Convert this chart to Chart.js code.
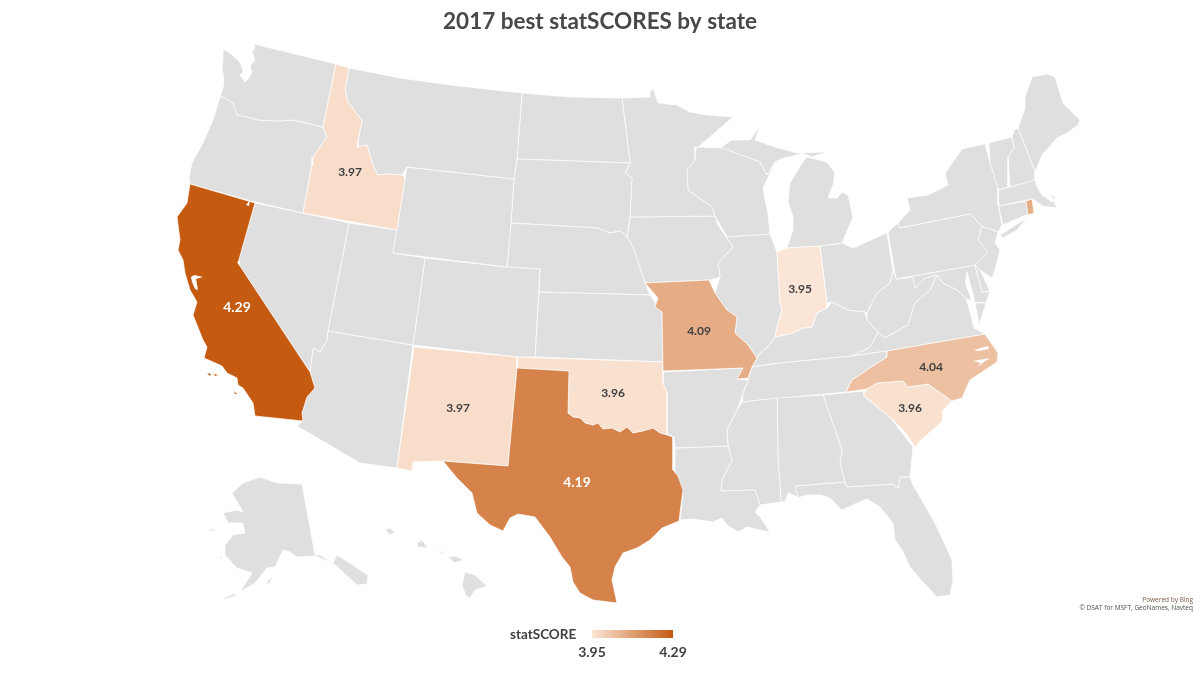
<!DOCTYPE html>
<html>
<head>
<meta charset="utf-8">
<title>2017 best statSCORES by state</title>
<script src="https://cdn.jsdelivr.net/npm/chart.js@4"></script>
<style>
  html, body { margin: 0; padding: 0; background: #fff; }
  canvas { display: block; }
</style>
</head>
<body>
<canvas id="mapa" width="1200" height="675"></canvas>
<script>
// Choropleth of statSCORE by state, drawn as closed scatter lines.

// ── State outlines ──
const WA = [[254,44],[336,64],[323,127],[293,120],[280,121],[258,120],[248,117],[237,115],[233,103],[223,97],[220,97],[223,88],[224,80],[222,68],[223,60],[223,49],[230,53],[238,60],[241,64],[243,72],[240,75],[245,82],[249,78],[252,72],[250,66],[255,60],[252,52],[255,48]];
const OR = [[220,97],[223,97],[233,103],[237,115],[248,117],[258,120],[280,121],[293,120],[323,127],[327,137],[313,157],[312,165],[303,213],[255,202],[190,184],[189,177],[192,163],[203,143],[213,120]];
const CA = [[190,184],[255,203],[238,263],[310,372],[315,388],[307,397],[302,413],[303,421],[255,416],[253,403],[243,388],[238,385],[237,378],[227,373],[222,366],[204,358],[207,347],[203,340],[193,315],[197,302],[190,290],[185,273],[183,260],[178,250],[180,240],[177,217],[187,203]];
const ID = [[336,64],[349,68],[345,90],[348,102],[362,121],[358,140],[358,147],[367,145],[373,165],[376,172],[377,175],[387,174],[402,175],[405,178],[397,230],[303,213],[312,165],[313,157],[327,137],[323,127]];
const NV = [[255,203],[303,213],[349,223],[328,331],[327,340],[320,352],[313,348],[310,372],[238,263]];
const MT = [[349,68],[400,78],[450,85],[522,93],[517,159],[514,179],[407,167],[402,175],[387,174],[377,175],[376,172],[373,165],[367,145],[358,147],[358,140],[362,121],[348,102],[345,90]];
const WY = [[407,167],[514,179],[511,223],[507,267],[393,253]];
const UT = [[349,223],[397,230],[393,253],[425,258],[413,345],[328,331]];
const AZ = [[328,331],[413,345],[397,468],[360,463],[297,426],[303,421],[302,413],[307,397],[315,388],[310,372],[313,348],[320,352],[327,340]];
const CO = [[425,258],[507,267],[540,269],[535,357],[517,357],[413,345]];
const NM = [[414,347],[517,357],[517,368],[508,466],[443,461],[413,462],[412,471],[397,468]];
const TX = [[517,368],[569,371],[568,413],[573,417],[580,418],[585,423],[593,425],[598,423],[603,429],[612,428],[620,432],[627,427],[633,433],[643,431],[653,428],[660,433],[667,435],[673,437],[673,470],[678,476],[683,490],[681,505],[679,521],[662,528],[650,540],[637,548],[623,553],[615,567],[612,580],[617,603],[593,600],[580,593],[573,582],[570,567],[562,557],[550,537],[535,517],[518,514],[510,518],[503,531],[490,525],[477,513],[472,493],[457,478],[443,461],[508,466]];
const OK = [[517,357],[663,362],[663,383],[667,393],[667,435],[660,433],[653,428],[643,431],[633,433],[627,427],[620,432],[612,428],[603,429],[598,423],[593,425],[585,423],[580,418],[573,417],[568,413],[569,371],[517,368]];
const KS = [[539,292],[650,295],[662,313],[663,362],[535,357]];
const NE = [[511,223],[598,228],[610,233],[620,231],[627,237],[633,247],[645,283],[650,295],[539,292],[540,269],[507,267]];
const SD = [[517,159],[630,163],[625,173],[632,178],[630,217],[627,237],[620,231],[610,233],[598,228],[511,223],[514,179]];
const ND = [[522,93],[570,97],[622,98],[625,123],[630,163],[517,159]];
const MN = [[622,98],[650,97],[650,90],[654,90],[658,103],[677,105],[690,112],[707,115],[733,117],[698,147],[695,147],[695,160],[687,170],[688,190],[712,207],[715,216],[630,217],[632,178],[625,173],[630,163],[625,123]];
const IA = [[630,217],[715,216],[718,225],[733,247],[718,263],[720,277],[710,280],[645,283],[633,247],[627,237]];
const MO = [[645,283],[709,280],[715,293],[727,310],[737,317],[735,333],[748,345],[757,358],[752,367],[748,378],[737,379],[743,368],[663,371],[662,312],[655,307],[658,298]];
const AR = [[665,372],[743,368],[737,379],[748,380],[743,393],[737,410],[727,430],[728,446],[675,448],[674,437],[665,433],[665,393],[663,383],[663,371]];
const LA = [[675,448],[728,446],[732,460],[722,480],[721,491],[755,490],[760,505],[755,512],[760,517],[770,532],[760,530],[747,527],[738,532],[727,525],[722,518],[713,522],[693,519],[680,520],[683,493],[675,473]];
const MS = [[742,402],[777,398],[778,457],[781,502],[760,505],[755,490],[721,491],[722,480],[732,460],[728,446],[727,430],[737,410]];
const AL = [[777,398],[823,395],[842,450],[840,463],[845,482],[795,486],[798,497],[788,493],[785,502],[781,502],[778,457]];
const GA = [[823,395],[863,391],[865,397],[890,417],[913,447],[910,477],[900,477],[898,488],[893,484],[847,487],[845,482],[840,463],[842,450]];
const FL = [[795,486],[845,482],[847,487],[893,484],[898,488],[900,477],[910,477],[913,485],[935,523],[952,560],[953,580],[950,595],[937,597],[923,582],[910,567],[902,550],[895,540],[893,523],[880,507],[867,499],[857,503],[842,510],[830,498],[820,495],[807,495],[797,498]];
const TN = [[752,367],[780,363],[852,356],[887,351],[887,357],[870,368],[852,380],[846,392],[742,402],[743,393],[748,380]];
const KY = [[752,367],[757,358],[760,353],[768,347],[775,337],[793,333],[803,328],[812,327],[817,313],[827,308],[832,302],[847,310],[865,312],[867,320],[878,332],[870,347],[852,356],[780,363]];
const IL = [[727,237],[770,234],[777,252],[780,303],[782,310],[777,327],[775,337],[768,347],[760,353],[757,358],[748,345],[735,333],[737,317],[727,310],[715,293],[720,277],[718,263],[733,247],[718,225]];
const IN = [[777,252],[787,248],[820,246],[827,303],[827,308],[817,313],[812,327],[803,328],[793,333],[775,337],[777,327],[782,310],[780,303]];
const WI = [[697,147],[723,148],[760,162],[767,175],[775,163],[763,188],[765,200],[768,213],[770,234],[727,237],[715,216],[712,207],[688,190],[687,170]];
const MI_N = [[720,148],[732,140],[750,140],[760,126],[755,140],[775,147],[797,153],[827,152],[812,157],[803,153],[790,157],[783,158],[775,162],[767,175],[760,162]];
const MI_S = [[787,248],[793,230],[793,217],[788,202],[790,183],[802,163],[807,157],[827,162],[835,173],[833,185],[828,198],[837,198],[842,192],[848,195],[853,217],[842,243],[820,246]];
const OH = [[820,246],[842,243],[853,248],[887,233],[893,270],[890,283],[877,293],[867,313],[865,312],[847,310],[832,302],[827,303]];
const PA = [[888,232],[898,223],[900,228],[970,214],[982,226],[978,240],[988,252],[975,265],[896,279]];
const NY = [[898,223],[910,210],[907,198],[928,195],[948,185],[945,173],[962,149],[985,144],[990,163],[998,188],[998,205],[1002,225],[998,232],[982,226],[970,214],[900,228]];
const LI = [[1000,235],[1027,218],[1017,230],[1003,238]];
const NJ = [[982,226],[998,232],[995,243],[1000,250],[995,270],[992,278],[980,270],[975,265],[988,252],[978,240]];
const DE = [[975,265],[980,270],[990,291],[982,292]];
const MD = [[896,279],[975,265],[982,292],[990,291],[986,303],[973,302],[966,298],[957,290],[943,283],[937,275],[925,278],[915,288],[913,277]];
const VA = [[852,356],[870,347],[878,332],[885,338],[908,325],[915,303],[930,290],[937,275],[943,283],[957,290],[966,298],[970,312],[974,328],[985,334],[887,351]];
const VA_ESTE = [[975,303],[986,303],[979,326]];
const WV = [[893,270],[896,279],[913,277],[915,288],[925,278],[937,275],[930,290],[915,303],[908,325],[885,338],[878,332],[867,320],[867,313],[877,293],[890,283]];
const NC = [[846,392],[852,380],[870,368],[887,357],[887,351],[985,334],[998,353],[997,362],[985,370],[970,380],[962,398],[952,401],[928,384],[908,387],[903,381],[877,383],[867,389]];
const SC = [[867,389],[877,383],[903,381],[908,387],[928,384],[952,401],[943,410],[942,422],[923,438],[915,447],[905,432],[893,420],[873,403],[863,395]];
const VT = [[989,143],[1012,137],[1014,148],[1008,157],[1008,187],[998,190],[993,173],[990,163]];
const NH = [[1014,130],[1018,128],[1035,172],[1035,180],[1010,187],[1008,157],[1014,148],[1012,137]];
const ME = [[1018,128],[1025,108],[1025,97],[1032,77],[1047,74],[1055,77],[1063,103],[1080,120],[1078,125],[1067,133],[1057,138],[1042,155],[1035,172]];
const MA = [[998,190],[1035,180],[1037,187],[1042,195],[1052,202],[1055,198],[1050,193],[1057,208],[1043,206],[1032,199],[999,206]];
const CT = [[999,206],[1026,201],[1028,214],[1003,225],[998,205]];
const RI = [[1026,201],[1032,199],[1034,213],[1028,215]];
const AK = [[302,484],[315,555],[320,555],[333,563],[337,555],[368,575],[367,584],[357,585],[333,563],[315,556],[297,557],[290,552],[283,550],[275,567],[267,568],[255,583],[240,592],[252,573],[237,568],[225,555],[225,545],[233,535],[245,533],[243,523],[228,523],[223,513],[237,510],[243,512],[232,493],[243,483],[260,477],[277,483]];
const AK_KODIAK = [[265,585],[273,575],[270,583]];
const AK_CADENA = [[220,600],[233,594],[238,595],[226,599]];
const AK_NUNIVAK = [[217,556],[223,557],[222,559]];
const AK_LAWRENCE = [[207,527],[215,530],[214,532]];
const HI_BIG = [[462,585],[465,572],[475,575],[487,586],[475,590],[470,598],[466,596]];
const HI_MAUI = [[448,557],[456,556],[463,560],[455,563]];
const HI_OAHU = [[417,543],[422,540],[428,548],[418,547]];
const HI_KAUAI = [[385,530],[390,528],[395,532],[390,535]];
const HI_MOLOKAI = [[437,551],[447,552],[440,553]];

// ── Water cut out of the land ──
const BAHIA_SF = [[191,277],[194,275],[203,277],[196,279],[198,290],[195,289],[192,282]];
const GOOSE = [[246,205],[250,200],[249,206]];
const TAHOE = [[237,262],[240,261],[240,266]];
const CHESAPEAKE = [[967,270],[965,283],[971,300],[974,312],[977,325],[979,322],[976,308],[974,296],[970,282]];
const PAMLICO_N = [[974,350],[988,346],[989,349],[978,351]];
const PAMLICO_S = [[973,361],[990,358],[984,362],[976,368],[981,363]];

// ── Values ──
const estadosDados = ["CA", "TX", "MO", "NC", "RI", "ID", "NM", "OK", "SC", "IN"];
const contornosDados = [CA, TX, MO, NC, RI, ID, NM, OK, SC, IN];
const scores = [4.29, 4.19, 4.09, 4.04, 4.09, 3.97, 3.97, 3.96, 3.96, 3.95];
const rotulosVisiveis = ["4.29", "4.19", "4.09", "4.04", "", "3.97", "3.97", "3.96", "3.96", "3.95"];
const rotuloX = [237, 577, 699, 931, 0, 350, 458, 613, 910, 800];
const rotuloY = [307, 482, 331, 367, 0, 172, 408, 393, 408, 289];

const semDados = [WA, OR, NV, MT, WY, UT, AZ, CO, KS, NE, SD, ND, MN, IA, AR, LA, MS, AL, GA, FL, TN, KY, IL, WI, MI_N, MI_S, OH, PA, NY, LI, NJ, DE, MD, VA, VA_ESTE, WV, VT, NH, ME, MA, CT, AK, AK_KODIAK, AK_CADENA, AK_NUNIVAK, AK_LAWRENCE, HI_BIG, HI_MAUI, HI_OAHU, HI_KAUAI, HI_MOLOKAI];
const ilhasCA = [[[207,373],[211,374],[210,376]], [[214,374],[218,375],[215,376]], [[234,391],[237,394],[235,394]], [[231,402],[233,405],[232,405]]];
const agua = [BAHIA_SF, GOOSE, TAHOE, CHESAPEAKE, PAMLICO_N, PAMLICO_S];

const scoreMin = 3.95;
const scoreMax = 4.29;

// ── Colours ──
const COR_BAIXA = [251, 229, 214];
const COR_ALTA  = [197, 90, 17];
const COR_SEM_DADOS = "#dfdfdf";

function corDoScore(v) {
  const t = (v - scoreMin) / (scoreMax - scoreMin);
  const c = COR_BAIXA.map((b, i) => Math.round(b + (COR_ALTA[i] - b) * t));
  return `rgb(${c[0]},${c[1]},${c[2]})`;
}

function poligono(pts, cor, borda) {
  const dados = pts.map(p => ({ x: p[0], y: p[1] }));
  dados.push({ x: pts[0][0], y: pts[0][1] });
  return {
    data: dados,
    showLine: true,
    fill: "shape",
    tension: 0,
    pointRadius: 0,
    pointHitRadius: 0,
    backgroundColor: cor,
    borderColor: borda,
    borderWidth: borda === cor ? 0 : 0.7,
  };
}

// First dataset is drawn on top, so water goes first and grey land last
const conjuntos = [];
agua.forEach(p => conjuntos.push(poligono(p, "#ffffff", "#ffffff")));
ilhasCA.forEach(p => conjuntos.push(poligono(p, corDoScore(4.29), corDoScore(4.29))));
contornosDados.forEach((p, i) => conjuntos.push(poligono(p, corDoScore(scores[i]), "#ffffff")));
semDados.forEach(p => conjuntos.push(poligono(p, COR_SEM_DADOS, "#ffffff")));

// ── Title, value labels and legend ──
const textosPlugin = {
  id: "textos",
  afterDatasetsDraw(chart) {
    const { ctx, scales: { x, y } } = chart;
    ctx.save();
    ctx.textBaseline = "middle";

    ctx.textAlign = "center";
    ctx.fillStyle = "#484848";
    ctx.font = "bold 22.5px Lato";
    ctx.fillText("2017 best statSCORES by state", x.getPixelForValue(600), y.getPixelForValue(22));

    rotulosVisiveis.forEach((r, i) => {
      if (!r) return;
      const claro = scores[i] > 4.15;
      ctx.fillStyle = claro ? "#ffffff" : "#404040";
      ctx.font = claro ? "bold 14px Lato" : "bold 12px Lato";
      ctx.fillText(r, x.getPixelForValue(rotuloX[i]), y.getPixelForValue(rotuloY[i]));
    });

    // Colour scale
    const x0 = x.getPixelForValue(592), x1 = x.getPixelForValue(673);
    const y0 = y.getPixelForValue(630), y1 = y.getPixelForValue(638);
    const grad = ctx.createLinearGradient(x0, 0, x1, 0);
    grad.addColorStop(0, corDoScore(scoreMin));
    grad.addColorStop(1, corDoScore(scoreMax));
    ctx.fillStyle = grad;
    ctx.fillRect(x0, y0, x1 - x0, y1 - y0);

    ctx.fillStyle = "#404040";
    ctx.textAlign = "left";
    ctx.font = "bold 13.5px Lato";
    ctx.fillText("statSCORE", x.getPixelForValue(510), y.getPixelForValue(635));
    ctx.textAlign = "center";
    ctx.font = "bold 14px Lato";
    ctx.fillText(scoreMin.toFixed(2), x.getPixelForValue(592), y.getPixelForValue(652));
    ctx.fillText(scoreMax.toFixed(2), x.getPixelForValue(673), y.getPixelForValue(652));

    // Map credit
    ctx.textAlign = "right";
    ctx.font = "6.5px 'Open Sans'";
    ctx.fillStyle = "#7a5a48";
    ctx.fillText("Powered by Bing", x.getPixelForValue(1193), y.getPixelForValue(600));
    ctx.fillStyle = "#505050";
    ctx.fillText("© DSAT for MSFT, GeoNames, Navteq", x.getPixelForValue(1193), y.getPixelForValue(608));
    ctx.restore();
  }
};

new Chart(document.getElementById("mapa").getContext("2d"), {
  type: "scatter",
  data: { datasets: conjuntos },
  options: {
    responsive: false,
    animation: false,
    devicePixelRatio: 1,
    layout: { padding: 0 },
    plugins: { legend: { display: false }, tooltip: { enabled: false } },
    scales: {
      x: { type: "linear", min: 0, max: 1200, display: false },
      y: { type: "linear", min: 0, max: 675, reverse: true, display: false },
    },
  },
  plugins: [textosPlugin],
});
</script>
</body>
</html>
